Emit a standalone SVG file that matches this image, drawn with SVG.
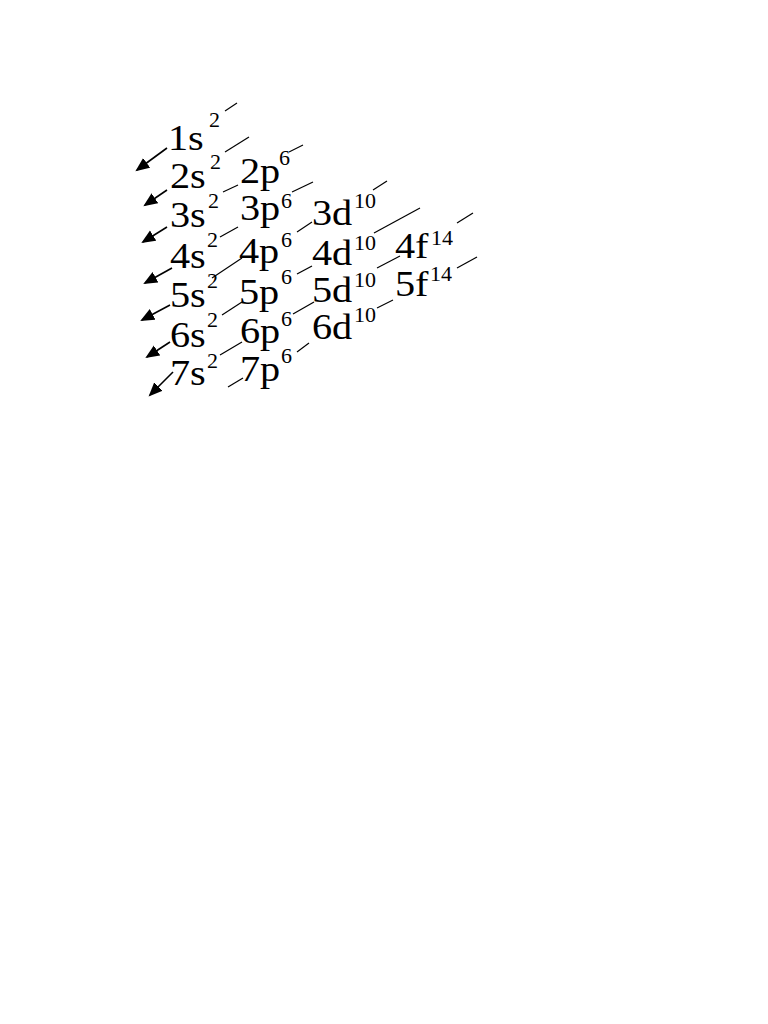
<svg xmlns="http://www.w3.org/2000/svg" width="768" height="1024" viewBox="0 0 768 1024">
<style>
.m{font-family:"Liberation Serif","Times New Roman",serif;font-size:35px;fill:#000}
.s{font-family:"Liberation Serif","Times New Roman",serif;font-size:22px;fill:#000}
.c line{stroke:#000;stroke-width:1.2}
.a line{stroke:#000;stroke-width:1.6}
</style>
<defs>
<marker id="ah" markerUnits="userSpaceOnUse" markerWidth="15" markerHeight="13" refX="12" refY="6" orient="auto">
<path d="M0,0 L14,6 L0,12 z" fill="#000"/>
</marker>
</defs>
<rect width="768" height="1024" fill="#fff"/>
<g id="row1">
<text class="m" transform="translate(168 150) scale(1.15 1)">1s</text><text class="s" x="209" y="127">2</text>
</g>
<g id="row2">
<text class="m" transform="translate(170 188) scale(1.15 1)">2s</text><text class="s" x="210" y="169">2</text>
<text class="m" transform="translate(240 183) scale(1.15 1)">2p</text><text class="s" x="279" y="165">6</text>
</g>
<g id="row3">
<text class="m" transform="translate(170 227) scale(1.15 1)">3s</text><text class="s" x="208" y="208">2</text>
<text class="m" transform="translate(240 220) scale(1.15 1)">3p</text><text class="s" x="281" y="208">6</text>
<text class="m" transform="translate(312 225) scale(1.15 1)">3d</text><text class="s" x="354" y="208">10</text>
</g>
<g id="row4">
<text class="m" transform="translate(170 268) scale(1.15 1)">4s</text><text class="s" x="207" y="247">2</text>
<text class="m" transform="translate(239 263) scale(1.15 1)">4p</text><text class="s" x="281" y="247">6</text>
<text class="m" transform="translate(312 265) scale(1.15 1)">4d</text><text class="s" x="354" y="250">10</text>
<text class="m" transform="translate(395 258) scale(1.15 1)">4f</text><text class="s" x="431" y="245">14</text>
</g>
<g id="row5">
<text class="m" transform="translate(170 307) scale(1.15 1)">5s</text><text class="s" x="207" y="288">2</text>
<text class="m" transform="translate(239 304) scale(1.15 1)">5p</text><text class="s" x="281" y="284">6</text>
<text class="m" transform="translate(312 302) scale(1.15 1)">5d</text><text class="s" x="354" y="287">10</text>
<text class="m" transform="translate(395 296) scale(1.15 1)">5f</text><text class="s" x="430" y="281">14</text>
</g>
<g id="row6">
<text class="m" transform="translate(170 347) scale(1.15 1)">6s</text><text class="s" x="207" y="327">2</text>
<text class="m" transform="translate(240 343) scale(1.15 1)">6p</text><text class="s" x="281" y="326">6</text>
<text class="m" transform="translate(312 339) scale(1.15 1)">6d</text><text class="s" x="354" y="322">10</text>
</g>
<g id="row7">
<text class="m" transform="translate(170 385) scale(1.15 1)">7s</text><text class="s" x="207" y="368">2</text>
<text class="m" transform="translate(240 381) scale(1.15 1)">7p</text><text class="s" x="281" y="363">6</text>
</g>
<g id="connectors">
<g class="c">
<line x1="225" y1="111" x2="237" y2="103"/>
<line x1="225" y1="152" x2="249" y2="137"/>
<line x1="223" y1="192" x2="238" y2="185"/>
<line x1="289" y1="152" x2="303" y2="145"/>
<line x1="292" y1="192" x2="313" y2="182"/>
<line x1="220" y1="237" x2="238" y2="227"/>
<line x1="297" y1="232" x2="312" y2="222"/>
<line x1="373" y1="190" x2="387" y2="181"/>
<line x1="374" y1="233" x2="420" y2="208"/>
<line x1="457" y1="223" x2="473" y2="213"/>
<line x1="212" y1="278" x2="242" y2="258"/>
<line x1="297" y1="274" x2="312" y2="266"/>
<line x1="377" y1="268" x2="400" y2="256"/>
<line x1="457" y1="268" x2="477" y2="257"/>
<line x1="222" y1="315" x2="242" y2="302"/>
<line x1="293" y1="314" x2="314" y2="302"/>
<line x1="377" y1="308" x2="393" y2="300"/>
<line x1="220" y1="355" x2="242" y2="342"/>
<line x1="297" y1="352" x2="309" y2="343"/>
<line x1="228" y1="387" x2="243" y2="378"/>
</g>
<g class="a">
<line x1="167" y1="148" x2="137" y2="170" marker-end="url(#ah)"/>
<line x1="167" y1="190" x2="145" y2="205" marker-end="url(#ah)"/>
<line x1="167" y1="227" x2="143" y2="242" marker-end="url(#ah)"/>
<line x1="172" y1="268" x2="145" y2="283" marker-end="url(#ah)"/>
<line x1="170" y1="305" x2="142" y2="320" marker-end="url(#ah)"/>
<line x1="170" y1="342" x2="147" y2="357" marker-end="url(#ah)"/>
<line x1="173" y1="372" x2="150" y2="395" marker-end="url(#ah)"/>
</g>
</g>
</svg>
